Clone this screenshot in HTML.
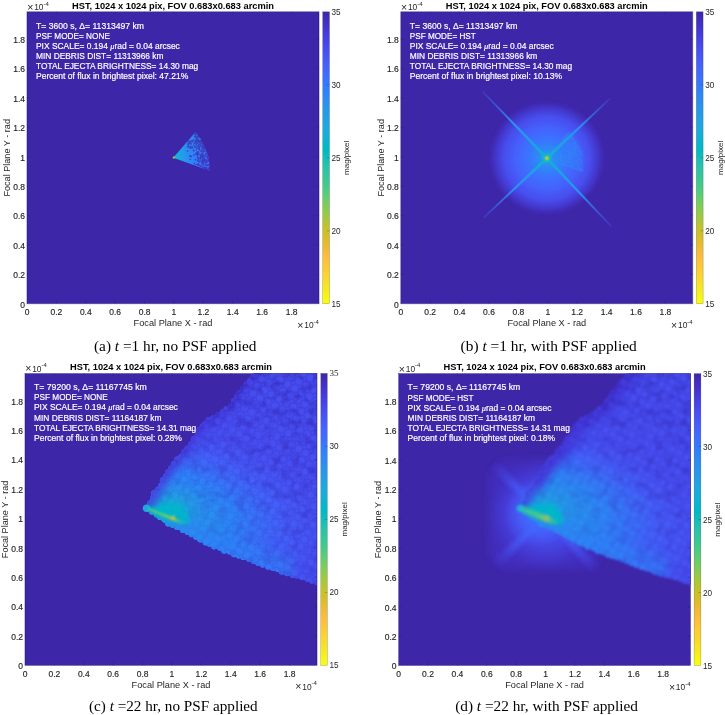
<!DOCTYPE html>
<html><head><meta charset="utf-8"><title>HST debris PSF figure</title>
<style>html,body{margin:0;padding:0;background:#fff;width:725px;height:715px;overflow:hidden}svg{display:block}</style>
</head><body>
<svg width="725" height="715" viewBox="0 0 725 715">
<defs><linearGradient id="cbg" x1="0" y1="0" x2="0" y2="1"><stop offset="0.0000" stop-color="#3e26a8"/><stop offset="0.0159" stop-color="#402ab4"/><stop offset="0.0317" stop-color="#422ec0"/><stop offset="0.0476" stop-color="#4332cb"/><stop offset="0.0635" stop-color="#4537d5"/><stop offset="0.0794" stop-color="#463cde"/><stop offset="0.0952" stop-color="#4741e5"/><stop offset="0.1111" stop-color="#4747eb"/><stop offset="0.1270" stop-color="#484df0"/><stop offset="0.1429" stop-color="#4852f4"/><stop offset="0.1587" stop-color="#4758f8"/><stop offset="0.1746" stop-color="#465efb"/><stop offset="0.1905" stop-color="#4563fd"/><stop offset="0.2063" stop-color="#4269fe"/><stop offset="0.2222" stop-color="#3e6fff"/><stop offset="0.2381" stop-color="#3875fe"/><stop offset="0.2540" stop-color="#327cfc"/><stop offset="0.2698" stop-color="#2f81fa"/><stop offset="0.2857" stop-color="#2e87f7"/><stop offset="0.3016" stop-color="#2d8cf3"/><stop offset="0.3175" stop-color="#2b91ef"/><stop offset="0.3333" stop-color="#2797eb"/><stop offset="0.3492" stop-color="#259be8"/><stop offset="0.3651" stop-color="#23a0e5"/><stop offset="0.3810" stop-color="#20a5e3"/><stop offset="0.3968" stop-color="#1ca9df"/><stop offset="0.4127" stop-color="#18addb"/><stop offset="0.4286" stop-color="#12b1d6"/><stop offset="0.4444" stop-color="#08b5d0"/><stop offset="0.4603" stop-color="#01b8ca"/><stop offset="0.4762" stop-color="#02bac3"/><stop offset="0.4921" stop-color="#0bbdbd"/><stop offset="0.5079" stop-color="#19bfb6"/><stop offset="0.5238" stop-color="#24c1ae"/><stop offset="0.5397" stop-color="#2cc4a7"/><stop offset="0.5556" stop-color="#31c69f"/><stop offset="0.5714" stop-color="#37c897"/><stop offset="0.5873" stop-color="#3fca8e"/><stop offset="0.6032" stop-color="#4acb84"/><stop offset="0.6190" stop-color="#57cc7a"/><stop offset="0.6349" stop-color="#64cd6f"/><stop offset="0.6508" stop-color="#72cd64"/><stop offset="0.6667" stop-color="#81cc59"/><stop offset="0.6825" stop-color="#8fcb4e"/><stop offset="0.6984" stop-color="#9dc943"/><stop offset="0.7143" stop-color="#abc739"/><stop offset="0.7302" stop-color="#b9c431"/><stop offset="0.7460" stop-color="#c5c22a"/><stop offset="0.7619" stop-color="#d1bf27"/><stop offset="0.7778" stop-color="#dcbd29"/><stop offset="0.7937" stop-color="#e6bb2d"/><stop offset="0.8095" stop-color="#f0ba36"/><stop offset="0.8254" stop-color="#f8ba3d"/><stop offset="0.8413" stop-color="#febe3c"/><stop offset="0.8571" stop-color="#fec338"/><stop offset="0.8730" stop-color="#fec934"/><stop offset="0.8889" stop-color="#fccf30"/><stop offset="0.9048" stop-color="#fad62c"/><stop offset="0.9206" stop-color="#f8dd28"/><stop offset="0.9365" stop-color="#f7e423"/><stop offset="0.9524" stop-color="#f6eb1e"/><stop offset="0.9683" stop-color="#f7f218"/><stop offset="0.9841" stop-color="#f8f911"/><stop offset="1.0000" stop-color="#f9fb15"/></linearGradient><g id="fanS"><polygon points="259.1,366.7 254.2,373.8 250.0,378.1 239.5,390.6 228.9,406.0 221.0,411.2 211.0,417.1 202.9,422.7 196.3,433.5 187.9,445.3 181.9,453.8 175.3,459.3 171.3,464.9 167.1,471.6 161.3,480.0 157.9,485.9 154.1,490.8 151.3,497.5 146.7,507.1 146.2,510.0 154.8,515.3 165.5,523.4 179.5,530.0 206.8,544.8 230.5,554.5 242.8,558.2 255.3,563.2 267.7,568.1 280.0,572.5 292.4,576.2 304.8,579.9 316.6,583.6 330.4,587.8 330.0,360.0"/><circle cx="148.3" cy="508.3" r="3.0"/><circle cx="150.5" cy="503.2" r="3.0"/><circle cx="152.8" cy="498.5" r="2.8"/><circle cx="154.3" cy="493.5" r="3.2"/><circle cx="157.6" cy="489.8" r="2.8"/><circle cx="160.8" cy="485.8" r="2.7"/><circle cx="163.0" cy="480.4" r="3.1"/><circle cx="165.8" cy="476.1" r="2.7"/><circle cx="168.4" cy="471.7" r="2.8"/><circle cx="171.4" cy="468.2" r="3.0"/><circle cx="174.5" cy="463.7" r="3.0"/><circle cx="177.2" cy="459.6" r="3.1"/><circle cx="181.7" cy="457.0" r="3.3"/><circle cx="184.6" cy="452.2" r="3.1"/><circle cx="187.4" cy="448.4" r="2.9"/><circle cx="191.4" cy="443.7" r="2.9"/><circle cx="194.4" cy="439.1" r="3.3"/><circle cx="197.5" cy="435.3" r="2.8"/><circle cx="199.8" cy="430.4" r="3.3"/><circle cx="202.8" cy="426.3" r="3.1"/><circle cx="205.1" cy="423.6" r="2.8"/><circle cx="208.7" cy="420.1" r="3.2"/><circle cx="212.9" cy="418.0" r="2.8"/><circle cx="217.9" cy="415.0" r="2.8"/><circle cx="222.7" cy="411.9" r="2.8"/><circle cx="226.5" cy="409.2" r="3.1"/><circle cx="231.0" cy="406.1" r="2.8"/><circle cx="234.2" cy="401.4" r="3.2"/><circle cx="237.2" cy="397.1" r="2.8"/><circle cx="239.8" cy="393.1" r="3.1"/><circle cx="243.2" cy="388.9" r="2.8"/><circle cx="246.5" cy="384.1" r="2.9"/><circle cx="250.1" cy="380.3" r="2.8"/><circle cx="253.4" cy="376.8" r="3.1"/><circle cx="257.0" cy="372.8" r="3.3"/><circle cx="259.7" cy="367.9" r="3.2"/><circle cx="147.5" cy="508.2" r="3.2"/><circle cx="151.8" cy="511.8" r="2.8"/><circle cx="156.6" cy="514.6" r="2.8"/><circle cx="160.2" cy="516.9" r="3.1"/><circle cx="164.9" cy="520.1" r="2.7"/><circle cx="168.2" cy="523.3" r="3.1"/><circle cx="172.8" cy="524.7" r="3.1"/><circle cx="177.2" cy="527.0" r="3.1"/><circle cx="182.9" cy="529.9" r="3.0"/><circle cx="187.6" cy="531.9" r="2.9"/><circle cx="191.4" cy="534.6" r="2.7"/><circle cx="195.8" cy="537.0" r="2.7"/><circle cx="200.3" cy="539.5" r="3.0"/><circle cx="205.9" cy="542.3" r="3.2"/><circle cx="209.9" cy="543.8" r="3.1"/><circle cx="214.0" cy="546.7" r="2.7"/><circle cx="219.9" cy="547.6" r="3.1"/><circle cx="224.2" cy="550.4" r="3.1"/><circle cx="229.5" cy="551.5" r="2.9"/><circle cx="234.0" cy="554.2" r="3.0"/><circle cx="238.9" cy="555.5" r="3.1"/><circle cx="243.6" cy="556.9" r="3.2"/><circle cx="249.1" cy="558.6" r="3.2"/><circle cx="253.9" cy="560.7" r="3.2"/><circle cx="258.2" cy="562.7" r="3.1"/><circle cx="262.7" cy="564.6" r="3.1"/><circle cx="268.4" cy="566.6" r="3.3"/><circle cx="273.1" cy="568.2" r="2.9"/><circle cx="278.1" cy="569.3" r="3.0"/><circle cx="282.0" cy="571.6" r="3.2"/><circle cx="287.1" cy="573.2" r="3.0"/><circle cx="292.6" cy="574.9" r="3.0"/><circle cx="296.8" cy="575.7" r="2.9"/><circle cx="302.1" cy="577.0" r="3.1"/><circle cx="307.6" cy="578.8" r="3.2"/><circle cx="312.2" cy="580.7" r="3.2"/><circle cx="317.3" cy="582.4" r="2.8"/><circle cx="322.8" cy="583.4" r="3.2"/><circle cx="327.1" cy="584.6" r="3.0"/></g><clipPath id="fanclip"><polygon points="259.1,366.7 254.2,373.8 250.0,378.1 239.5,390.6 228.9,406.0 221.0,411.2 211.0,417.1 202.9,422.7 196.3,433.5 187.9,445.3 181.9,453.8 175.3,459.3 171.3,464.9 167.1,471.6 161.3,480.0 157.9,485.9 154.1,490.8 151.3,497.5 146.7,507.1 146.2,510.0 154.8,515.3 165.5,523.4 179.5,530.0 206.8,544.8 230.5,554.5 242.8,558.2 255.3,563.2 267.7,568.1 280.0,572.5 292.4,576.2 304.8,579.9 316.6,583.6 330.4,587.8 330.0,360.0"/><circle cx="148.3" cy="508.3" r="3.0"/><circle cx="150.5" cy="503.2" r="3.0"/><circle cx="152.8" cy="498.5" r="2.8"/><circle cx="154.3" cy="493.5" r="3.2"/><circle cx="157.6" cy="489.8" r="2.8"/><circle cx="160.8" cy="485.8" r="2.7"/><circle cx="163.0" cy="480.4" r="3.1"/><circle cx="165.8" cy="476.1" r="2.7"/><circle cx="168.4" cy="471.7" r="2.8"/><circle cx="171.4" cy="468.2" r="3.0"/><circle cx="174.5" cy="463.7" r="3.0"/><circle cx="177.2" cy="459.6" r="3.1"/><circle cx="181.7" cy="457.0" r="3.3"/><circle cx="184.6" cy="452.2" r="3.1"/><circle cx="187.4" cy="448.4" r="2.9"/><circle cx="191.4" cy="443.7" r="2.9"/><circle cx="194.4" cy="439.1" r="3.3"/><circle cx="197.5" cy="435.3" r="2.8"/><circle cx="199.8" cy="430.4" r="3.3"/><circle cx="202.8" cy="426.3" r="3.1"/><circle cx="205.1" cy="423.6" r="2.8"/><circle cx="208.7" cy="420.1" r="3.2"/><circle cx="212.9" cy="418.0" r="2.8"/><circle cx="217.9" cy="415.0" r="2.8"/><circle cx="222.7" cy="411.9" r="2.8"/><circle cx="226.5" cy="409.2" r="3.1"/><circle cx="231.0" cy="406.1" r="2.8"/><circle cx="234.2" cy="401.4" r="3.2"/><circle cx="237.2" cy="397.1" r="2.8"/><circle cx="239.8" cy="393.1" r="3.1"/><circle cx="243.2" cy="388.9" r="2.8"/><circle cx="246.5" cy="384.1" r="2.9"/><circle cx="250.1" cy="380.3" r="2.8"/><circle cx="253.4" cy="376.8" r="3.1"/><circle cx="257.0" cy="372.8" r="3.3"/><circle cx="259.7" cy="367.9" r="3.2"/><circle cx="147.5" cy="508.2" r="3.2"/><circle cx="151.8" cy="511.8" r="2.8"/><circle cx="156.6" cy="514.6" r="2.8"/><circle cx="160.2" cy="516.9" r="3.1"/><circle cx="164.9" cy="520.1" r="2.7"/><circle cx="168.2" cy="523.3" r="3.1"/><circle cx="172.8" cy="524.7" r="3.1"/><circle cx="177.2" cy="527.0" r="3.1"/><circle cx="182.9" cy="529.9" r="3.0"/><circle cx="187.6" cy="531.9" r="2.9"/><circle cx="191.4" cy="534.6" r="2.7"/><circle cx="195.8" cy="537.0" r="2.7"/><circle cx="200.3" cy="539.5" r="3.0"/><circle cx="205.9" cy="542.3" r="3.2"/><circle cx="209.9" cy="543.8" r="3.1"/><circle cx="214.0" cy="546.7" r="2.7"/><circle cx="219.9" cy="547.6" r="3.1"/><circle cx="224.2" cy="550.4" r="3.1"/><circle cx="229.5" cy="551.5" r="2.9"/><circle cx="234.0" cy="554.2" r="3.0"/><circle cx="238.9" cy="555.5" r="3.1"/><circle cx="243.6" cy="556.9" r="3.2"/><circle cx="249.1" cy="558.6" r="3.2"/><circle cx="253.9" cy="560.7" r="3.2"/><circle cx="258.2" cy="562.7" r="3.1"/><circle cx="262.7" cy="564.6" r="3.1"/><circle cx="268.4" cy="566.6" r="3.3"/><circle cx="273.1" cy="568.2" r="2.9"/><circle cx="278.1" cy="569.3" r="3.0"/><circle cx="282.0" cy="571.6" r="3.2"/><circle cx="287.1" cy="573.2" r="3.0"/><circle cx="292.6" cy="574.9" r="3.0"/><circle cx="296.8" cy="575.7" r="2.9"/><circle cx="302.1" cy="577.0" r="3.1"/><circle cx="307.6" cy="578.8" r="3.2"/><circle cx="312.2" cy="580.7" r="3.2"/><circle cx="317.3" cy="582.4" r="2.8"/><circle cx="322.8" cy="583.4" r="3.2"/><circle cx="327.1" cy="584.6" r="3.0"/></clipPath><radialGradient id="blobg"><stop offset="0" stop-color="#2e1cae" stop-opacity="0"/><stop offset="0.55" stop-color="#2e1cae" stop-opacity="0.03"/><stop offset="1" stop-color="#2e1cae" stop-opacity="0.36"/></radialGradient><pattern id="blobp" patternUnits="userSpaceOnUse" width="8.4" height="8.4" patternTransform="rotate(30)"><circle cx="4.2" cy="4.2" r="4.8" fill="url(#blobg)"/></pattern><linearGradient id="tri" gradientUnits="userSpaceOnUse" x1="173" y1="158" x2="211" y2="152"><stop offset="0" stop-color="#71cd64"/><stop offset="0.04" stop-color="#24c2ae"/><stop offset="0.12" stop-color="#13b0d7"/><stop offset="0.3" stop-color="#2797eb"/><stop offset="0.5" stop-color="#2e83f9"/><stop offset="0.75" stop-color="#3974fe"/><stop offset="1" stop-color="#416bfe"/></linearGradient><linearGradient id="tri2" gradientUnits="userSpaceOnUse" x1="185" y1="150" x2="190" y2="140"><stop offset="0" stop-color="#259ce7" stop-opacity="0"/><stop offset="1" stop-color="#259ce7" stop-opacity="0.35"/></linearGradient><radialGradient id="halo"><stop offset="0" stop-color="#1caadf"/><stop offset="0.06" stop-color="#259ce7"/><stop offset="0.18" stop-color="#2e87f7"/><stop offset="0.35" stop-color="#3b72ff"/><stop offset="0.55" stop-color="#4561fc"/><stop offset="0.75" stop-color="#4851f4" stop-opacity="0.9"/><stop offset="0.9" stop-color="#4743e7" stop-opacity="0.5"/><stop offset="1" stop-color="#4433cc" stop-opacity="0"/></radialGradient><radialGradient id="core"><stop offset="0" stop-color="#f8ba3d"/><stop offset="0.2" stop-color="#9fc942"/><stop offset="0.45" stop-color="#1ac0b5"/><stop offset="0.75" stop-color="#19addc" stop-opacity="0.7"/><stop offset="1" stop-color="#259ce7" stop-opacity="0"/></radialGradient><radialGradient id="glow2"><stop offset="0" stop-color="#347afd"/><stop offset="0.5" stop-color="#416bfe" stop-opacity="0.6"/><stop offset="1" stop-color="#465efb" stop-opacity="0"/></radialGradient><radialGradient id="glow"><stop offset="0" stop-color="#4465fd"/><stop offset="0.35" stop-color="#4755f6"/><stop offset="0.7" stop-color="#4743e7" stop-opacity="0.8"/><stop offset="1" stop-color="#4537d6" stop-opacity="0.45"/></radialGradient><radialGradient id="fang" gradientUnits="userSpaceOnUse" cx="150" cy="513" r="195" gradientTransform="rotate(10 150 513) translate(150 513) scale(1 0.52) translate(-150 -513)"><stop offset="0" stop-color="#15afd9"/><stop offset="0.1" stop-color="#1fa6e2"/><stop offset="0.25" stop-color="#2797eb"/><stop offset="0.45" stop-color="#2e83f9"/><stop offset="0.7" stop-color="#4367fd" stop-opacity="0.7"/><stop offset="1" stop-color="#4850f2" stop-opacity="0"/></radialGradient><radialGradient id="fang3" gradientUnits="userSpaceOnUse" cx="165" cy="510" r="110" gradientTransform="rotate(-5 165 510) translate(165 510) scale(1 0.6) translate(-165 -510)"><stop offset="0" stop-color="#21a3e3" stop-opacity="0.8"/><stop offset="0.5" stop-color="#2d8cf3" stop-opacity="0.5"/><stop offset="1" stop-color="#3d70ff" stop-opacity="0"/></radialGradient><radialGradient id="fang2" gradientUnits="userSpaceOnUse" cx="166" cy="512" r="40" gradientTransform="rotate(-15 166 512) translate(166 512) scale(1 0.6) translate(-166 -512)"><stop offset="0" stop-color="#01b8ca"/><stop offset="0.5" stop-color="#19addc" stop-opacity="0.6"/><stop offset="1" stop-color="#259ce7" stop-opacity="0"/></radialGradient><linearGradient id="strk" gradientUnits="userSpaceOnUse" x1="149" y1="509" x2="185" y2="523.6"><stop offset="0" stop-color="#37c898"/><stop offset="0.4" stop-color="#58cc79"/><stop offset="0.67" stop-color="#96ca48"/><stop offset="1" stop-color="#12beb9" stop-opacity="0.3"/></linearGradient><linearGradient id="strk2" gradientUnits="userSpaceOnUse" x1="148" y1="508" x2="186" y2="522"><stop offset="0" stop-color="#5ccc76"/><stop offset="0.7" stop-color="#c8c129"/><stop offset="1" stop-color="#39c895"/></linearGradient><filter id="b05" x="-50%" y="-50%" width="200%" height="200%"><feGaussianBlur stdDeviation="0.5"/></filter><filter id="b07" x="-50%" y="-50%" width="200%" height="200%"><feGaussianBlur stdDeviation="0.7"/></filter><filter id="b08" x="-50%" y="-50%" width="200%" height="200%"><feGaussianBlur stdDeviation="0.8"/></filter><filter id="b1" x="-50%" y="-50%" width="200%" height="200%"><feGaussianBlur stdDeviation="1"/></filter><filter id="b12" x="-50%" y="-50%" width="200%" height="200%"><feGaussianBlur stdDeviation="1.2"/></filter><filter id="b15" x="-50%" y="-50%" width="200%" height="200%"><feGaussianBlur stdDeviation="1.5"/></filter><filter id="b2" x="-50%" y="-50%" width="200%" height="200%"><feGaussianBlur stdDeviation="2"/></filter><filter id="b3" x="-50%" y="-50%" width="200%" height="200%"><feGaussianBlur stdDeviation="3"/></filter><filter id="b4" x="-50%" y="-50%" width="200%" height="200%"><feGaussianBlur stdDeviation="4"/></filter><filter id="b6" x="-50%" y="-50%" width="200%" height="200%"><feGaussianBlur stdDeviation="6"/></filter><filter id="tex" x="0" y="300" width="400" height="400" filterUnits="userSpaceOnUse" color-interpolation-filters="sRGB"><feTurbulence type="fractalNoise" baseFrequency="0.11" numOctaves="2" seed="7" result="n"/><feColorMatrix in="n" type="matrix" values="0 0 0 0 0.18  0 0 0 0 0.11  0 0 0 0 0.66  3.4 0 0 0 -1.55" result="m"/><feComposite in="m" in2="SourceGraphic" operator="in"/></filter><linearGradient id="texg" gradientUnits="userSpaceOnUse" x1="160" y1="530" x2="300" y2="400"><stop offset="0" stop-color="#fff" stop-opacity="0.12"/><stop offset="0.45" stop-color="#fff" stop-opacity="0.5"/><stop offset="1" stop-color="#fff" stop-opacity="1"/></linearGradient><mask id="texm" maskUnits="userSpaceOnUse" x="0" y="300" width="400" height="400"><rect x="0" y="300" width="400" height="400" fill="url(#texg)"/></mask></defs>
<rect width="725" height="715" fill="#fff"/>
<g>
<clipPath id="clipa"><rect x="27.00" y="11.80" width="292.00" height="292.00"/></clipPath>
<g clip-path="url(#clipa)">
<rect x="27.00" y="11.80" width="292.00" height="292.00" fill="#3e26a8"/>
<polygon points="173.2,157.8 195.6,131.9 200.0,137.8 204.5,147.0 209.0,158.2 209.6,170.8" fill="url(#tri)"/><polygon points="173.2,157.8 195.6,131.9 200.0,137.8 204.5,147.0 209.0,158.2 209.6,170.8" fill="url(#tri2)"/><g fill="#3e26a8" opacity="0.7"><rect x="202.2" y="167.1" width="1.4" height="1.4"/><rect x="197.5" y="139.7" width="1.4" height="1.4"/><rect x="193.1" y="144.5" width="1.4" height="1.4"/><rect x="193.1" y="154.6" width="1.4" height="1.4"/><rect x="194.8" y="153.6" width="1.4" height="1.4"/><rect x="193.4" y="142.6" width="1.4" height="1.4"/><rect x="195.9" y="139.3" width="1.4" height="1.4"/><rect x="198.1" y="164.5" width="1.4" height="1.4"/><rect x="201.7" y="162.4" width="1.4" height="1.4"/><rect x="197.8" y="141.5" width="1.4" height="1.4"/><rect x="198.3" y="143.5" width="1.4" height="1.4"/><rect x="203.4" y="157.2" width="1.4" height="1.4"/><rect x="194.7" y="158.9" width="1.4" height="1.4"/><rect x="202.2" y="153.7" width="1.4" height="1.4"/><rect x="199.5" y="139.8" width="1.4" height="1.4"/><rect x="207.1" y="168.7" width="1.4" height="1.4"/><rect x="203.3" y="159.5" width="1.4" height="1.4"/><rect x="202.6" y="147.0" width="1.4" height="1.4"/><rect x="205.4" y="156.0" width="1.4" height="1.4"/><rect x="196.8" y="156.6" width="1.4" height="1.4"/><rect x="203.1" y="155.8" width="1.4" height="1.4"/><rect x="197.6" y="138.8" width="1.4" height="1.4"/><rect x="188.8" y="142.6" width="1.4" height="1.4"/><rect x="197.4" y="145.3" width="1.4" height="1.4"/><rect x="195.8" y="141.0" width="1.4" height="1.4"/><rect x="199.5" y="143.6" width="1.4" height="1.4"/><rect x="194.9" y="135.3" width="1.4" height="1.4"/><rect x="200.0" y="155.1" width="1.4" height="1.4"/><rect x="201.7" y="166.7" width="1.4" height="1.4"/><rect x="196.5" y="138.8" width="1.4" height="1.4"/><rect x="198.2" y="146.8" width="1.4" height="1.4"/><rect x="192.7" y="149.3" width="1.4" height="1.4"/><rect x="201.5" y="147.9" width="1.4" height="1.4"/><rect x="205.6" y="164.0" width="1.4" height="1.4"/><rect x="199.2" y="143.4" width="1.4" height="1.4"/><rect x="199.1" y="148.8" width="1.4" height="1.4"/><rect x="204.7" y="154.1" width="1.4" height="1.4"/><rect x="203.4" y="147.5" width="1.4" height="1.4"/><rect x="205.6" y="167.5" width="1.4" height="1.4"/><rect x="197.7" y="152.4" width="1.4" height="1.4"/><rect x="193.9" y="135.7" width="1.4" height="1.4"/><rect x="189.5" y="155.4" width="1.4" height="1.4"/><rect x="188.1" y="145.2" width="1.4" height="1.4"/><rect x="196.5" y="142.5" width="1.4" height="1.4"/><rect x="195.0" y="131.6" width="1.4" height="1.4"/><rect x="199.6" y="140.0" width="1.4" height="1.4"/><rect x="193.7" y="162.8" width="1.4" height="1.4"/><rect x="202.6" y="163.8" width="1.4" height="1.4"/><rect x="201.5" y="144.2" width="1.4" height="1.4"/><rect x="202.1" y="163.1" width="1.4" height="1.4"/><rect x="195.6" y="133.4" width="1.4" height="1.4"/><rect x="201.4" y="147.3" width="1.4" height="1.4"/><rect x="191.9" y="141.0" width="1.4" height="1.4"/><rect x="192.8" y="139.2" width="1.4" height="1.4"/><rect x="203.2" y="157.6" width="1.4" height="1.4"/><rect x="202.8" y="159.9" width="1.4" height="1.4"/><rect x="194.8" y="142.4" width="1.4" height="1.4"/><rect x="198.8" y="144.0" width="1.4" height="1.4"/><rect x="186.6" y="146.0" width="1.4" height="1.4"/><rect x="191.9" y="146.4" width="1.4" height="1.4"/><rect x="198.5" y="146.2" width="1.4" height="1.4"/><rect x="187.5" y="142.5" width="1.4" height="1.4"/><rect x="200.9" y="165.3" width="1.4" height="1.4"/><rect x="200.2" y="145.1" width="1.4" height="1.4"/><rect x="204.2" y="167.6" width="1.4" height="1.4"/><rect x="197.0" y="164.0" width="1.4" height="1.4"/><rect x="188.3" y="142.4" width="1.4" height="1.4"/><rect x="205.4" y="163.7" width="1.4" height="1.4"/><rect x="196.4" y="153.5" width="1.4" height="1.4"/><rect x="190.5" y="141.3" width="1.4" height="1.4"/><rect x="202.3" y="161.2" width="1.4" height="1.4"/><rect x="205.2" y="152.7" width="1.4" height="1.4"/><rect x="197.3" y="147.5" width="1.4" height="1.4"/><rect x="205.3" y="168.6" width="1.4" height="1.4"/><rect x="195.5" y="138.4" width="1.4" height="1.4"/><rect x="207.1" y="165.0" width="1.4" height="1.4"/><rect x="204.0" y="167.1" width="1.4" height="1.4"/><rect x="203.1" y="165.6" width="1.4" height="1.4"/><rect x="190.1" y="145.6" width="1.4" height="1.4"/><rect x="197.7" y="158.8" width="1.4" height="1.4"/><rect x="198.9" y="141.2" width="1.4" height="1.4"/><rect x="205.0" y="159.3" width="1.4" height="1.4"/><rect x="207.1" y="160.3" width="1.4" height="1.4"/><rect x="199.4" y="145.8" width="1.4" height="1.4"/><rect x="195.4" y="136.8" width="1.4" height="1.4"/><rect x="208.7" y="167.5" width="1.4" height="1.4"/><rect x="195.4" y="133.9" width="1.4" height="1.4"/><rect x="199.7" y="159.3" width="1.4" height="1.4"/><rect x="201.8" y="161.5" width="1.4" height="1.4"/><rect x="208.1" y="159.9" width="1.4" height="1.4"/><rect x="199.9" y="154.6" width="1.4" height="1.4"/><rect x="203.2" y="159.9" width="1.4" height="1.4"/><rect x="205.0" y="160.2" width="1.4" height="1.4"/><rect x="203.0" y="160.5" width="1.4" height="1.4"/><rect x="195.8" y="152.1" width="1.4" height="1.4"/><rect x="205.1" y="159.6" width="1.4" height="1.4"/><rect x="204.5" y="167.9" width="1.4" height="1.4"/><rect x="205.8" y="153.5" width="1.4" height="1.4"/><rect x="196.2" y="139.3" width="1.4" height="1.4"/><rect x="187.2" y="140.7" width="1.4" height="1.4"/><rect x="197.2" y="145.4" width="1.4" height="1.4"/><rect x="203.2" y="150.6" width="1.4" height="1.4"/><rect x="202.1" y="156.0" width="1.4" height="1.4"/><rect x="208.0" y="164.0" width="1.4" height="1.4"/><rect x="205.0" y="166.8" width="1.4" height="1.4"/><rect x="190.9" y="147.0" width="1.4" height="1.4"/><rect x="197.5" y="141.3" width="1.4" height="1.4"/><rect x="190.1" y="147.3" width="1.4" height="1.4"/><rect x="200.1" y="140.3" width="1.4" height="1.4"/><rect x="197.8" y="158.9" width="1.4" height="1.4"/><rect x="186.8" y="150.3" width="1.4" height="1.4"/><rect x="195.3" y="143.8" width="1.4" height="1.4"/><rect x="187.6" y="143.7" width="1.4" height="1.4"/><rect x="201.6" y="145.6" width="1.4" height="1.4"/><rect x="204.0" y="155.0" width="1.4" height="1.4"/><rect x="197.4" y="135.8" width="1.4" height="1.4"/><rect x="194.5" y="132.6" width="1.4" height="1.4"/><rect x="201.5" y="156.6" width="1.4" height="1.4"/><rect x="199.7" y="157.1" width="1.4" height="1.4"/><rect x="205.7" y="164.4" width="1.4" height="1.4"/><rect x="188.1" y="140.2" width="1.4" height="1.4"/><rect x="201.8" y="159.7" width="1.4" height="1.4"/><rect x="195.9" y="143.1" width="1.4" height="1.4"/><rect x="205.9" y="166.9" width="1.4" height="1.4"/><rect x="196.7" y="140.7" width="1.4" height="1.4"/><rect x="200.2" y="150.3" width="1.4" height="1.4"/><rect x="203.4" y="159.9" width="1.4" height="1.4"/><rect x="189.5" y="158.6" width="1.4" height="1.4"/><rect x="200.4" y="139.9" width="1.4" height="1.4"/><rect x="200.7" y="156.1" width="1.4" height="1.4"/><rect x="208.0" y="167.9" width="1.4" height="1.4"/><rect x="202.3" y="161.1" width="1.4" height="1.4"/><rect x="204.3" y="150.5" width="1.4" height="1.4"/><rect x="201.3" y="162.7" width="1.4" height="1.4"/><rect x="205.9" y="161.7" width="1.4" height="1.4"/><rect x="202.2" y="145.5" width="1.4" height="1.4"/><rect x="191.3" y="140.8" width="1.4" height="1.4"/><rect x="198.4" y="147.6" width="1.4" height="1.4"/><rect x="200.8" y="161.1" width="1.4" height="1.4"/><rect x="197.7" y="151.2" width="1.4" height="1.4"/><rect x="206.0" y="161.5" width="1.4" height="1.4"/><rect x="207.0" y="155.1" width="1.4" height="1.4"/><rect x="187.0" y="143.6" width="1.4" height="1.4"/><rect x="194.9" y="133.0" width="1.4" height="1.4"/><rect x="207.7" y="158.0" width="1.4" height="1.4"/><rect x="207.9" y="167.8" width="1.4" height="1.4"/><rect x="208.3" y="159.3" width="1.4" height="1.4"/><rect x="190.3" y="143.1" width="1.4" height="1.4"/><rect x="203.0" y="161.6" width="1.4" height="1.4"/><rect x="199.2" y="164.6" width="1.4" height="1.4"/><rect x="189.0" y="141.4" width="1.4" height="1.4"/><rect x="189.2" y="147.2" width="1.4" height="1.4"/><rect x="197.7" y="163.0" width="1.4" height="1.4"/><rect x="202.6" y="154.3" width="1.4" height="1.4"/><rect x="198.6" y="149.0" width="1.4" height="1.4"/><rect x="187.6" y="143.7" width="1.4" height="1.4"/><rect x="203.0" y="148.7" width="1.4" height="1.4"/><rect x="198.4" y="143.9" width="1.4" height="1.4"/><rect x="195.8" y="147.2" width="1.4" height="1.4"/><rect x="196.9" y="160.1" width="1.4" height="1.4"/><rect x="197.2" y="136.1" width="1.4" height="1.4"/><rect x="207.2" y="155.3" width="1.4" height="1.4"/><rect x="205.7" y="168.9" width="1.4" height="1.4"/><rect x="197.2" y="141.0" width="1.4" height="1.4"/><rect x="195.8" y="140.0" width="1.4" height="1.4"/><rect x="196.7" y="155.1" width="1.4" height="1.4"/><rect x="206.6" y="157.0" width="1.4" height="1.4"/><rect x="198.3" y="153.7" width="1.4" height="1.4"/><rect x="204.5" y="168.0" width="1.4" height="1.4"/><rect x="189.7" y="140.6" width="1.4" height="1.4"/><rect x="207.4" y="159.9" width="1.4" height="1.4"/><rect x="195.3" y="153.4" width="1.4" height="1.4"/><rect x="197.2" y="134.3" width="1.4" height="1.4"/><rect x="200.7" y="142.8" width="1.4" height="1.4"/><rect x="200.5" y="141.1" width="1.4" height="1.4"/><rect x="201.7" y="158.3" width="1.4" height="1.4"/><rect x="196.9" y="152.8" width="1.4" height="1.4"/><rect x="196.8" y="140.1" width="1.4" height="1.4"/><rect x="197.9" y="135.6" width="1.4" height="1.4"/><rect x="204.0" y="149.3" width="1.4" height="1.4"/><rect x="198.4" y="157.1" width="1.4" height="1.4"/><rect x="201.3" y="155.1" width="1.4" height="1.4"/><rect x="203.7" y="158.9" width="1.4" height="1.4"/><rect x="201.3" y="155.4" width="1.4" height="1.4"/><rect x="206.2" y="164.1" width="1.4" height="1.4"/><rect x="193.8" y="140.2" width="1.4" height="1.4"/><rect x="198.9" y="140.6" width="1.4" height="1.4"/><rect x="204.5" y="163.4" width="1.4" height="1.4"/><rect x="196.4" y="151.2" width="1.4" height="1.4"/><rect x="191.7" y="147.1" width="1.4" height="1.4"/><rect x="201.5" y="151.3" width="1.4" height="1.4"/><rect x="202.8" y="151.2" width="1.4" height="1.4"/><rect x="188.4" y="146.3" width="1.4" height="1.4"/><rect x="200.3" y="141.5" width="1.4" height="1.4"/><rect x="198.9" y="136.9" width="1.4" height="1.4"/><rect x="208.6" y="167.1" width="1.4" height="1.4"/><rect x="207.1" y="168.6" width="1.4" height="1.4"/><rect x="195.0" y="140.5" width="1.4" height="1.4"/><rect x="204.8" y="168.5" width="1.4" height="1.4"/><rect x="196.4" y="137.5" width="1.4" height="1.4"/><rect x="194.4" y="146.6" width="1.4" height="1.4"/><rect x="197.2" y="138.6" width="1.4" height="1.4"/><rect x="194.6" y="141.8" width="1.4" height="1.4"/><rect x="201.1" y="150.4" width="1.4" height="1.4"/><rect x="196.1" y="135.9" width="1.4" height="1.4"/><rect x="200.4" y="156.3" width="1.4" height="1.4"/><rect x="201.4" y="160.3" width="1.4" height="1.4"/><rect x="202.4" y="149.1" width="1.4" height="1.4"/><rect x="198.2" y="147.0" width="1.4" height="1.4"/><rect x="199.0" y="160.7" width="1.4" height="1.4"/><rect x="200.6" y="153.5" width="1.4" height="1.4"/><rect x="204.7" y="161.4" width="1.4" height="1.4"/><rect x="202.7" y="158.6" width="1.4" height="1.4"/><rect x="200.4" y="142.0" width="1.4" height="1.4"/><rect x="201.0" y="150.3" width="1.4" height="1.4"/><rect x="201.6" y="146.4" width="1.4" height="1.4"/><rect x="203.0" y="145.5" width="1.4" height="1.4"/><rect x="194.1" y="145.7" width="1.4" height="1.4"/><rect x="198.3" y="161.0" width="1.4" height="1.4"/><rect x="208.3" y="157.9" width="1.4" height="1.4"/><rect x="204.3" y="167.3" width="1.4" height="1.4"/><rect x="190.6" y="155.8" width="1.4" height="1.4"/><rect x="199.9" y="157.7" width="1.4" height="1.4"/><rect x="200.3" y="156.1" width="1.4" height="1.4"/><rect x="207.6" y="158.7" width="1.4" height="1.4"/><rect x="197.5" y="140.7" width="1.4" height="1.4"/><rect x="197.6" y="158.0" width="1.4" height="1.4"/><rect x="194.2" y="133.8" width="1.4" height="1.4"/><rect x="196.5" y="136.3" width="1.4" height="1.4"/><rect x="194.0" y="136.3" width="1.4" height="1.4"/><rect x="198.9" y="141.5" width="1.4" height="1.4"/><rect x="198.9" y="140.0" width="1.4" height="1.4"/><rect x="197.4" y="152.0" width="1.4" height="1.4"/><rect x="208.3" y="159.0" width="1.4" height="1.4"/><rect x="199.6" y="154.4" width="1.4" height="1.4"/><rect x="199.8" y="140.1" width="1.4" height="1.4"/><rect x="189.6" y="155.3" width="1.4" height="1.4"/><rect x="207.0" y="156.6" width="1.4" height="1.4"/><rect x="204.2" y="160.0" width="1.4" height="1.4"/><rect x="196.3" y="145.3" width="1.4" height="1.4"/><rect x="206.1" y="155.8" width="1.4" height="1.4"/><rect x="191.4" y="139.8" width="1.4" height="1.4"/><rect x="201.1" y="141.0" width="1.4" height="1.4"/><rect x="198.5" y="136.0" width="1.4" height="1.4"/><rect x="202.0" y="143.1" width="1.4" height="1.4"/><rect x="201.7" y="152.5" width="1.4" height="1.4"/><rect x="198.1" y="148.3" width="1.4" height="1.4"/><rect x="205.6" y="159.3" width="1.4" height="1.4"/><rect x="203.1" y="147.3" width="1.4" height="1.4"/><rect x="204.2" y="147.4" width="1.4" height="1.4"/><rect x="195.6" y="148.8" width="1.4" height="1.4"/><rect x="202.7" y="163.7" width="1.4" height="1.4"/><rect x="208.4" y="168.8" width="1.4" height="1.4"/><rect x="201.6" y="145.3" width="1.4" height="1.4"/><rect x="199.6" y="165.4" width="1.4" height="1.4"/><rect x="203.1" y="155.1" width="1.4" height="1.4"/><rect x="202.8" y="145.1" width="1.4" height="1.4"/><rect x="195.4" y="163.9" width="1.4" height="1.4"/><rect x="189.8" y="143.1" width="1.4" height="1.4"/><rect x="193.2" y="150.2" width="1.4" height="1.4"/></g><circle cx="173.8" cy="157.6" r="1.15" fill="#b4c533" filter="url(#b05)"/>
</g>
<rect x="27.00" y="11.80" width="292.00" height="292.00" fill="none" stroke="#1c1470" stroke-width="0.6" opacity="0.8"/>
<path d="M56.40 303.80V300.90M56.40 11.80V14.70M27.00 274.40H29.90M319.00 274.40H316.10M85.80 303.80V300.90M85.80 11.80V14.70M27.00 245.00H29.90M319.00 245.00H316.10M115.19 303.80V300.90M115.19 11.80V14.70M27.00 215.61H29.90M319.00 215.61H316.10M144.59 303.80V300.90M144.59 11.80V14.70M27.00 186.21H29.90M319.00 186.21H316.10M173.99 303.80V300.90M173.99 11.80V14.70M27.00 156.81H29.90M319.00 156.81H316.10M203.39 303.80V300.90M203.39 11.80V14.70M27.00 127.41H29.90M319.00 127.41H316.10M232.78 303.80V300.90M232.78 11.80V14.70M27.00 98.02H29.90M319.00 98.02H316.10M262.18 303.80V300.90M262.18 11.80V14.70M27.00 68.62H29.90M319.00 68.62H316.10M291.58 303.80V300.90M291.58 11.80V14.70M27.00 39.22H29.90M319.00 39.22H316.10" stroke="#262626" stroke-width="0.5" opacity="0.55" fill="none"/>
<g font-family="'Liberation Sans', Arial, Helvetica, sans-serif" font-size="8.55" fill="#ffffff" stroke="#ffffff" stroke-width="0.18">
<text x="36.00" y="28.55" textLength="108.00" lengthAdjust="spacingAndGlyphs">T= 3600 s, &#916;= 11313497 km</text>
<text x="36.00" y="38.71" textLength="73.90" lengthAdjust="spacingAndGlyphs">PSF MODE= NONE</text>
<text x="36.00" y="48.87" textLength="143.80" lengthAdjust="spacingAndGlyphs">PIX SCALE= 0.194 <tspan font-family="'Liberation Serif', 'Times New Roman', serif" font-style="italic">&#956;</tspan>rad = 0.04 arcsec</text>
<text x="36.00" y="59.03" textLength="127.50" lengthAdjust="spacingAndGlyphs">MIN DEBRIS DIST= 11313966 km</text>
<text x="36.00" y="69.19" textLength="162.25" lengthAdjust="spacingAndGlyphs">TOTAL EJECTA BRIGHTNESS= 14.30 mag</text>
<text x="36.00" y="79.35" textLength="152.30" lengthAdjust="spacingAndGlyphs">Percent of flux in brightest pixel: 47.21%</text>
</g>
<text x="173.00" y="8.60" font-family="'Liberation Sans', Arial, Helvetica, sans-serif" font-weight="bold" font-size="9.25" text-anchor="middle" fill="#000" textLength="202" lengthAdjust="spacingAndGlyphs">HST, 1024 x 1024 pix, FOV 0.683x0.683 arcmin</text>
<g font-family="'Liberation Sans', Arial, Helvetica, sans-serif" font-size="8.5" fill="#262626" stroke="#262626" stroke-width="0.15">
<text x="27.00" y="315.10" text-anchor="middle">0</text>
<text x="25.00" y="307.50" text-anchor="end">0</text>
<text x="56.40" y="315.10" text-anchor="middle">0.2</text>
<text x="25.00" y="278.10" text-anchor="end">0.2</text>
<text x="85.80" y="315.10" text-anchor="middle">0.4</text>
<text x="25.00" y="248.70" text-anchor="end">0.4</text>
<text x="115.19" y="315.10" text-anchor="middle">0.6</text>
<text x="25.00" y="219.31" text-anchor="end">0.6</text>
<text x="144.59" y="315.10" text-anchor="middle">0.8</text>
<text x="25.00" y="189.91" text-anchor="end">0.8</text>
<text x="173.99" y="315.10" text-anchor="middle">1</text>
<text x="25.00" y="160.51" text-anchor="end">1</text>
<text x="203.39" y="315.10" text-anchor="middle">1.2</text>
<text x="25.00" y="131.11" text-anchor="end">1.2</text>
<text x="232.78" y="315.10" text-anchor="middle">1.4</text>
<text x="25.00" y="101.72" text-anchor="end">1.4</text>
<text x="262.18" y="315.10" text-anchor="middle">1.6</text>
<text x="25.00" y="72.32" text-anchor="end">1.6</text>
<text x="291.58" y="315.10" text-anchor="middle">1.8</text>
<text x="25.00" y="42.92" text-anchor="end">1.8</text>
</g>
<text x="27.20" y="9.90" font-family="'Liberation Sans', Arial, Helvetica, sans-serif" font-size="8.4" fill="#262626"><tspan font-size="10.5" dy="0.8">&#215;</tspan><tspan dx="0.8" dy="-0.8">10</tspan><tspan font-size="6" dy="-4.3">-4</tspan></text>
<text x="318.90" y="328.00" font-family="'Liberation Sans', Arial, Helvetica, sans-serif" font-size="8.4" fill="#262626" text-anchor="end"><tspan font-size="10.5" dy="0.8">&#215;</tspan><tspan dx="0.8" dy="-0.8">10</tspan><tspan font-size="6" dy="-4.3">-4</tspan></text>
<text x="173.00" y="326.20" font-family="'Liberation Sans', Arial, Helvetica, sans-serif" font-size="9.1" fill="#262626" text-anchor="middle" textLength="78.8" lengthAdjust="spacingAndGlyphs">Focal Plane X - rad</text>
<text transform="translate(9.80 157.80) rotate(-90)" font-family="'Liberation Sans', Arial, Helvetica, sans-serif" font-size="9.1" fill="#262626" text-anchor="middle">Focal Plane Y - rad</text>
<rect x="322.70" y="11.80" width="6.80" height="292.00" fill="url(#cbg)"/>
<rect x="322.70" y="11.80" width="6.80" height="292.00" fill="none" stroke="#262626" stroke-width="0.4" opacity="0.5"/>
<path d="M329.50 84.80H327.00M329.50 157.80H327.00M329.50 230.80H327.00" stroke="#262626" stroke-width="0.5" opacity="0.5"/>
<g font-family="'Liberation Sans', Arial, Helvetica, sans-serif" font-size="8.2" fill="#262626">
<text x="331.40" y="14.75">35</text>
<text x="331.40" y="87.75">30</text>
<text x="331.40" y="160.75">25</text>
<text x="331.40" y="233.75">20</text>
<text x="331.40" y="306.75">15</text>
</g>
<text transform="translate(348.80 157.80) rotate(-90)" font-family="'Liberation Sans', Arial, Helvetica, sans-serif" font-size="8" fill="#262626" text-anchor="middle">mag/pixel</text>
<text x="94.00" y="350.70" font-family="'Liberation Serif', 'Times New Roman', serif" font-size="13.6" fill="#000" textLength="162.5" lengthAdjust="spacingAndGlyphs">(a) <tspan font-style="italic">t</tspan> =1 hr, no PSF applied</text>
</g>
<g>
<clipPath id="clipb"><rect x="400.80" y="11.80" width="292.00" height="292.00"/></clipPath>
<g clip-path="url(#clipb)">
<rect x="400.80" y="11.80" width="292.00" height="292.00" fill="#3e26a8"/>
<g filter="url(#b15)"><ellipse cx="546.9" cy="158.2" rx="58" ry="57" fill="url(#halo)"/><polygon points="549,158 569,132.4 576,141 582.5,153.4 583,171" fill="#2e85f8" opacity="0.4"/></g><g fill="#2d8cf3" opacity="0.55" filter="url(#b05)"><rect x="568.3" y="145.0" width="1.3" height="1.3"/><rect x="555.5" y="150.5" width="1.3" height="1.3"/><rect x="570.9" y="155.2" width="1.3" height="1.3"/><rect x="575.0" y="148.3" width="1.3" height="1.3"/><rect x="571.9" y="161.9" width="1.3" height="1.3"/><rect x="566.1" y="160.7" width="1.3" height="1.3"/><rect x="574.2" y="159.8" width="1.3" height="1.3"/><rect x="566.0" y="150.0" width="1.3" height="1.3"/><rect x="557.7" y="152.0" width="1.3" height="1.3"/><rect x="567.1" y="146.1" width="1.3" height="1.3"/><rect x="571.6" y="136.6" width="1.3" height="1.3"/><rect x="556.9" y="152.7" width="1.3" height="1.3"/><rect x="562.0" y="155.0" width="1.3" height="1.3"/><rect x="574.2" y="154.1" width="1.3" height="1.3"/><rect x="571.7" y="148.3" width="1.3" height="1.3"/><rect x="567.5" y="138.3" width="1.3" height="1.3"/><rect x="567.8" y="143.0" width="1.3" height="1.3"/><rect x="557.8" y="155.8" width="1.3" height="1.3"/><rect x="578.0" y="150.2" width="1.3" height="1.3"/><rect x="576.0" y="147.2" width="1.3" height="1.3"/><rect x="566.6" y="145.0" width="1.3" height="1.3"/><rect x="561.2" y="145.7" width="1.3" height="1.3"/><rect x="571.1" y="135.1" width="1.3" height="1.3"/><rect x="557.8" y="152.7" width="1.3" height="1.3"/><rect x="568.0" y="158.9" width="1.3" height="1.3"/><rect x="576.7" y="145.4" width="1.3" height="1.3"/><rect x="575.4" y="161.8" width="1.3" height="1.3"/><rect x="580.0" y="150.1" width="1.3" height="1.3"/><rect x="570.2" y="136.6" width="1.3" height="1.3"/><rect x="568.1" y="152.8" width="1.3" height="1.3"/><rect x="566.2" y="136.6" width="1.3" height="1.3"/><rect x="580.2" y="152.2" width="1.3" height="1.3"/><rect x="570.0" y="151.9" width="1.3" height="1.3"/><rect x="573.3" y="152.1" width="1.3" height="1.3"/><rect x="563.8" y="159.8" width="1.3" height="1.3"/><rect x="574.9" y="148.4" width="1.3" height="1.3"/><rect x="569.1" y="156.1" width="1.3" height="1.3"/><rect x="556.8" y="154.7" width="1.3" height="1.3"/><rect x="575.8" y="155.6" width="1.3" height="1.3"/><rect x="572.1" y="155.1" width="1.3" height="1.3"/><rect x="574.3" y="146.4" width="1.3" height="1.3"/><rect x="572.4" y="137.0" width="1.3" height="1.3"/><rect x="568.5" y="151.8" width="1.3" height="1.3"/><rect x="564.7" y="162.2" width="1.3" height="1.3"/><rect x="561.8" y="162.1" width="1.3" height="1.3"/><rect x="565.8" y="160.5" width="1.3" height="1.3"/><rect x="568.4" y="151.3" width="1.3" height="1.3"/><rect x="565.7" y="156.0" width="1.3" height="1.3"/><rect x="562.0" y="140.1" width="1.3" height="1.3"/><rect x="569.8" y="137.6" width="1.3" height="1.3"/><rect x="572.3" y="138.6" width="1.3" height="1.3"/><rect x="563.8" y="163.0" width="1.3" height="1.3"/><rect x="580.6" y="168.4" width="1.3" height="1.3"/><rect x="579.9" y="168.0" width="1.3" height="1.3"/><rect x="564.2" y="139.7" width="1.3" height="1.3"/><rect x="572.3" y="150.0" width="1.3" height="1.3"/><rect x="566.5" y="138.1" width="1.3" height="1.3"/><rect x="563.1" y="148.7" width="1.3" height="1.3"/><rect x="572.4" y="153.2" width="1.3" height="1.3"/><rect x="567.7" y="137.2" width="1.3" height="1.3"/><rect x="566.6" y="143.0" width="1.3" height="1.3"/><rect x="560.1" y="152.2" width="1.3" height="1.3"/><rect x="560.6" y="159.2" width="1.3" height="1.3"/><rect x="572.9" y="143.5" width="1.3" height="1.3"/><rect x="567.9" y="154.8" width="1.3" height="1.3"/><rect x="576.7" y="166.5" width="1.3" height="1.3"/><rect x="570.5" y="143.4" width="1.3" height="1.3"/><rect x="555.9" y="152.6" width="1.3" height="1.3"/><rect x="569.7" y="133.5" width="1.3" height="1.3"/><rect x="575.4" y="141.3" width="1.3" height="1.3"/><rect x="573.5" y="146.0" width="1.3" height="1.3"/><rect x="580.2" y="150.6" width="1.3" height="1.3"/><rect x="559.1" y="158.3" width="1.3" height="1.3"/><rect x="565.4" y="140.7" width="1.3" height="1.3"/><rect x="564.3" y="145.5" width="1.3" height="1.3"/><rect x="560.5" y="155.1" width="1.3" height="1.3"/><rect x="579.7" y="153.3" width="1.3" height="1.3"/><rect x="555.6" y="158.1" width="1.3" height="1.3"/><rect x="555.9" y="149.5" width="1.3" height="1.3"/><rect x="579.6" y="157.8" width="1.3" height="1.3"/><rect x="580.8" y="161.0" width="1.3" height="1.3"/><rect x="568.0" y="157.9" width="1.3" height="1.3"/><rect x="561.8" y="143.3" width="1.3" height="1.3"/><rect x="576.3" y="144.0" width="1.3" height="1.3"/><rect x="572.2" y="152.3" width="1.3" height="1.3"/><rect x="574.6" y="147.1" width="1.3" height="1.3"/><rect x="581.6" y="159.4" width="1.3" height="1.3"/><rect x="578.0" y="146.1" width="1.3" height="1.3"/><rect x="568.3" y="155.9" width="1.3" height="1.3"/><rect x="581.1" y="169.8" width="1.3" height="1.3"/><rect x="580.2" y="161.6" width="1.3" height="1.3"/><rect x="570.5" y="157.5" width="1.3" height="1.3"/><rect x="571.6" y="137.8" width="1.3" height="1.3"/><rect x="577.2" y="148.4" width="1.3" height="1.3"/><rect x="571.4" y="137.7" width="1.3" height="1.3"/><rect x="574.0" y="151.3" width="1.3" height="1.3"/><rect x="571.6" y="164.8" width="1.3" height="1.3"/><rect x="577.5" y="168.1" width="1.3" height="1.3"/><rect x="559.6" y="145.3" width="1.3" height="1.3"/><rect x="563.3" y="149.6" width="1.3" height="1.3"/><rect x="562.5" y="155.1" width="1.3" height="1.3"/><rect x="557.0" y="151.6" width="1.3" height="1.3"/><rect x="568.4" y="134.5" width="1.3" height="1.3"/><rect x="564.0" y="138.8" width="1.3" height="1.3"/><rect x="560.3" y="156.1" width="1.3" height="1.3"/><rect x="573.2" y="142.9" width="1.3" height="1.3"/><rect x="581.0" y="152.6" width="1.3" height="1.3"/><rect x="575.2" y="144.4" width="1.3" height="1.3"/><rect x="571.0" y="159.0" width="1.3" height="1.3"/><rect x="557.5" y="159.0" width="1.3" height="1.3"/><rect x="557.0" y="153.4" width="1.3" height="1.3"/><rect x="569.6" y="164.9" width="1.3" height="1.3"/><rect x="565.5" y="157.2" width="1.3" height="1.3"/><rect x="564.1" y="148.6" width="1.3" height="1.3"/><rect x="563.4" y="162.9" width="1.3" height="1.3"/><rect x="570.3" y="160.8" width="1.3" height="1.3"/><rect x="578.3" y="157.9" width="1.3" height="1.3"/><rect x="573.5" y="162.9" width="1.3" height="1.3"/><rect x="573.4" y="147.1" width="1.3" height="1.3"/><rect x="571.5" y="137.8" width="1.3" height="1.3"/><rect x="572.5" y="145.3" width="1.3" height="1.3"/><rect x="570.1" y="157.2" width="1.3" height="1.3"/><rect x="559.4" y="160.6" width="1.3" height="1.3"/><rect x="568.6" y="156.8" width="1.3" height="1.3"/><rect x="568.6" y="160.9" width="1.3" height="1.3"/><rect x="573.4" y="142.5" width="1.3" height="1.3"/><rect x="574.4" y="161.8" width="1.3" height="1.3"/><rect x="568.3" y="154.1" width="1.3" height="1.3"/><rect x="573.1" y="149.4" width="1.3" height="1.3"/><rect x="557.8" y="146.5" width="1.3" height="1.3"/><rect x="577.1" y="159.8" width="1.3" height="1.3"/><rect x="557.4" y="149.4" width="1.3" height="1.3"/><rect x="571.8" y="151.7" width="1.3" height="1.3"/><rect x="559.5" y="156.5" width="1.3" height="1.3"/><rect x="574.9" y="151.8" width="1.3" height="1.3"/><rect x="581.7" y="153.6" width="1.3" height="1.3"/><rect x="569.7" y="147.9" width="1.3" height="1.3"/><rect x="569.9" y="161.6" width="1.3" height="1.3"/><rect x="565.8" y="161.8" width="1.3" height="1.3"/><rect x="574.8" y="142.7" width="1.3" height="1.3"/></g><path d="M550 159.5 L583 171.5 M550 156 L569 132.4" stroke="#2c8ff1" stroke-width="1.1" opacity="0.6" fill="none" filter="url(#b05)"/><linearGradient id="spk0" gradientUnits="userSpaceOnUse" x1="546.9" y1="158.2" x2="482.3" y2="91.2"><stop offset="0" stop-color="#0eb3d4"/><stop offset="0.5" stop-color="#2c8ff1"/><stop offset="1" stop-color="#416bfe" stop-opacity="0.25"/></linearGradient><polygon points="548.0,157.2 482.8,90.7 481.8,91.7 545.8,159.2" fill="url(#spk0)" filter="url(#b05)"/><linearGradient id="spk1" gradientUnits="userSpaceOnUse" x1="546.9" y1="158.2" x2="610.0" y2="98.6"><stop offset="0" stop-color="#0eb3d4"/><stop offset="0.5" stop-color="#2c8ff1"/><stop offset="1" stop-color="#416bfe" stop-opacity="0.25"/></linearGradient><polygon points="547.9,159.3 610.5,99.1 609.5,98.1 545.9,157.1" fill="url(#spk1)" filter="url(#b05)"/><linearGradient id="spk2" gradientUnits="userSpaceOnUse" x1="546.9" y1="158.2" x2="483.6" y2="217.7"><stop offset="0" stop-color="#0eb3d4"/><stop offset="0.5" stop-color="#2c8ff1"/><stop offset="1" stop-color="#416bfe" stop-opacity="0.25"/></linearGradient><polygon points="545.9,157.1 483.1,217.2 484.1,218.2 547.9,159.3" fill="url(#spk2)" filter="url(#b05)"/><linearGradient id="spk3" gradientUnits="userSpaceOnUse" x1="546.9" y1="158.2" x2="611.4" y2="226.4"><stop offset="0" stop-color="#0eb3d4"/><stop offset="0.5" stop-color="#2c8ff1"/><stop offset="1" stop-color="#416bfe" stop-opacity="0.25"/></linearGradient><polygon points="545.8,159.2 610.9,226.9 611.9,225.9 548.0,157.2" fill="url(#spk3)" filter="url(#b05)"/><circle cx="546.9" cy="158.2" r="6" fill="url(#core)"/>
</g>
<rect x="400.80" y="11.80" width="292.00" height="292.00" fill="none" stroke="#1c1470" stroke-width="0.6" opacity="0.8"/>
<path d="M430.20 303.80V300.90M430.20 11.80V14.70M400.80 274.40H403.70M692.80 274.40H689.90M459.60 303.80V300.90M459.60 11.80V14.70M400.80 245.00H403.70M692.80 245.00H689.90M488.99 303.80V300.90M488.99 11.80V14.70M400.80 215.61H403.70M692.80 215.61H689.90M518.39 303.80V300.90M518.39 11.80V14.70M400.80 186.21H403.70M692.80 186.21H689.90M547.79 303.80V300.90M547.79 11.80V14.70M400.80 156.81H403.70M692.80 156.81H689.90M577.19 303.80V300.90M577.19 11.80V14.70M400.80 127.41H403.70M692.80 127.41H689.90M606.58 303.80V300.90M606.58 11.80V14.70M400.80 98.02H403.70M692.80 98.02H689.90M635.98 303.80V300.90M635.98 11.80V14.70M400.80 68.62H403.70M692.80 68.62H689.90M665.38 303.80V300.90M665.38 11.80V14.70M400.80 39.22H403.70M692.80 39.22H689.90" stroke="#262626" stroke-width="0.5" opacity="0.55" fill="none"/>
<g font-family="'Liberation Sans', Arial, Helvetica, sans-serif" font-size="8.55" fill="#ffffff" stroke="#ffffff" stroke-width="0.18">
<text x="409.80" y="28.55" textLength="107.60" lengthAdjust="spacingAndGlyphs">T= 3600 s, &#916;= 11313497 km</text>
<text x="409.80" y="38.71" textLength="66.00" lengthAdjust="spacingAndGlyphs">PSF MODE= HST</text>
<text x="409.80" y="48.87" textLength="143.80" lengthAdjust="spacingAndGlyphs">PIX SCALE= 0.194 <tspan font-family="'Liberation Serif', 'Times New Roman', serif" font-style="italic">&#956;</tspan>rad = 0.04 arcsec</text>
<text x="409.80" y="59.03" textLength="127.50" lengthAdjust="spacingAndGlyphs">MIN DEBRIS DIST= 11313966 km</text>
<text x="409.80" y="69.19" textLength="162.25" lengthAdjust="spacingAndGlyphs">TOTAL EJECTA BRIGHTNESS= 14.30 mag</text>
<text x="409.80" y="79.35" textLength="152.30" lengthAdjust="spacingAndGlyphs">Percent of flux in brightest pixel: 10.13%</text>
</g>
<text x="546.80" y="8.60" font-family="'Liberation Sans', Arial, Helvetica, sans-serif" font-weight="bold" font-size="9.25" text-anchor="middle" fill="#000" textLength="202" lengthAdjust="spacingAndGlyphs">HST, 1024 x 1024 pix, FOV 0.683x0.683 arcmin</text>
<g font-family="'Liberation Sans', Arial, Helvetica, sans-serif" font-size="8.5" fill="#262626" stroke="#262626" stroke-width="0.15">
<text x="400.80" y="315.10" text-anchor="middle">0</text>
<text x="398.80" y="307.50" text-anchor="end">0</text>
<text x="430.20" y="315.10" text-anchor="middle">0.2</text>
<text x="398.80" y="278.10" text-anchor="end">0.2</text>
<text x="459.60" y="315.10" text-anchor="middle">0.4</text>
<text x="398.80" y="248.70" text-anchor="end">0.4</text>
<text x="488.99" y="315.10" text-anchor="middle">0.6</text>
<text x="398.80" y="219.31" text-anchor="end">0.6</text>
<text x="518.39" y="315.10" text-anchor="middle">0.8</text>
<text x="398.80" y="189.91" text-anchor="end">0.8</text>
<text x="547.79" y="315.10" text-anchor="middle">1</text>
<text x="398.80" y="160.51" text-anchor="end">1</text>
<text x="577.19" y="315.10" text-anchor="middle">1.2</text>
<text x="398.80" y="131.11" text-anchor="end">1.2</text>
<text x="606.58" y="315.10" text-anchor="middle">1.4</text>
<text x="398.80" y="101.72" text-anchor="end">1.4</text>
<text x="635.98" y="315.10" text-anchor="middle">1.6</text>
<text x="398.80" y="72.32" text-anchor="end">1.6</text>
<text x="665.38" y="315.10" text-anchor="middle">1.8</text>
<text x="398.80" y="42.92" text-anchor="end">1.8</text>
</g>
<text x="401.00" y="9.90" font-family="'Liberation Sans', Arial, Helvetica, sans-serif" font-size="8.4" fill="#262626"><tspan font-size="10.5" dy="0.8">&#215;</tspan><tspan dx="0.8" dy="-0.8">10</tspan><tspan font-size="6" dy="-4.3">-4</tspan></text>
<text x="692.70" y="328.00" font-family="'Liberation Sans', Arial, Helvetica, sans-serif" font-size="8.4" fill="#262626" text-anchor="end"><tspan font-size="10.5" dy="0.8">&#215;</tspan><tspan dx="0.8" dy="-0.8">10</tspan><tspan font-size="6" dy="-4.3">-4</tspan></text>
<text x="546.80" y="326.20" font-family="'Liberation Sans', Arial, Helvetica, sans-serif" font-size="9.1" fill="#262626" text-anchor="middle" textLength="78.8" lengthAdjust="spacingAndGlyphs">Focal Plane X - rad</text>
<text transform="translate(383.60 157.80) rotate(-90)" font-family="'Liberation Sans', Arial, Helvetica, sans-serif" font-size="9.1" fill="#262626" text-anchor="middle">Focal Plane Y - rad</text>
<rect x="696.30" y="11.80" width="6.80" height="292.00" fill="url(#cbg)"/>
<rect x="696.30" y="11.80" width="6.80" height="292.00" fill="none" stroke="#262626" stroke-width="0.4" opacity="0.5"/>
<path d="M703.10 84.80H700.60M703.10 157.80H700.60M703.10 230.80H700.60" stroke="#262626" stroke-width="0.5" opacity="0.5"/>
<g font-family="'Liberation Sans', Arial, Helvetica, sans-serif" font-size="8.2" fill="#262626">
<text x="705.20" y="14.75">35</text>
<text x="705.20" y="87.75">30</text>
<text x="705.20" y="160.75">25</text>
<text x="705.20" y="233.75">20</text>
<text x="705.20" y="306.75">15</text>
</g>
<text transform="translate(722.60 157.80) rotate(-90)" font-family="'Liberation Sans', Arial, Helvetica, sans-serif" font-size="8" fill="#262626" text-anchor="middle">mag/pixel</text>
<text x="460.60" y="350.70" font-family="'Liberation Serif', 'Times New Roman', serif" font-size="13.6" fill="#000" textLength="176.1" lengthAdjust="spacingAndGlyphs">(b) <tspan font-style="italic">t</tspan> =1 hr, with PSF applied</text>
</g>
<g>
<clipPath id="clipc"><rect x="25.00" y="373.40" width="292.00" height="292.00"/></clipPath>
<g clip-path="url(#clipc)">
<rect x="25.00" y="373.40" width="292.00" height="292.00" fill="#3e26a8"/>
<g transform="translate(0.0 0.0)"><use href="#fanS" fill="#4850f2"/><use href="#fanS" fill="url(#fang)"/><use href="#fanS" fill="url(#fang2)"/><g clip-path="url(#fanclip)"><polyline points="145.5,506.5 150.1,497.0 153.0,490.2 156.8,485.2 160.2,479.3 166.0,470.9 170.2,464.2 174.4,458.4 180.9,452.9 186.8,444.5 195.2,432.8 201.9,421.8 210.3,416.0 220.3,410.1 227.9,405.1 238.5,389.8 249.0,377.2 253.2,373.0 258.0,366.0" fill="none" stroke="#473fe3" stroke-width="16" stroke-linejoin="round" filter="url(#b4)" opacity="0.9"/></g><g clip-path="url(#fanclip)"><polyline points="164.8,518.5 178.9,525.2 206.2,540.0 230.0,549.7 242.4,553.4 254.8,558.4 267.2,563.3 279.6,567.7 292.0,571.4" fill="none" stroke="#2e85f8" stroke-width="24" stroke-linejoin="round" filter="url(#b6)" opacity="0.65"/></g><use href="#fanS" fill="url(#blobp)" mask="url(#texm)"/><use href="#fanS" fill="#2a1c8c" filter="url(#tex)" opacity="0.4" mask="url(#texm)"/><circle cx="146.5" cy="508.2" r="3.7" fill="#1fa6e2"/><polygon points="148,509 165,504 180,503.5 189,514 189,525 170,521" fill="#01b8ca" opacity="0.85" filter="url(#b2)"/><g filter="url(#b08)"><path d="M149 509.1 L184.7 523.6" stroke="url(#strk)" stroke-width="3" stroke-linecap="round"/><path d="M173.1 517.8 L178 507.4" stroke="#0abdbd" stroke-width="1.2" opacity="0.7"/><circle cx="173.1" cy="517.8" r="1.9" fill="#d0c027"/></g></g>
</g>
<rect x="25.00" y="373.40" width="292.00" height="292.00" fill="none" stroke="#1c1470" stroke-width="0.6" opacity="0.8"/>
<path d="M54.40 665.40V662.50M54.40 373.40V376.30M25.00 636.00H27.90M317.00 636.00H314.10M83.80 665.40V662.50M83.80 373.40V376.30M25.00 606.60H27.90M317.00 606.60H314.10M113.19 665.40V662.50M113.19 373.40V376.30M25.00 577.21H27.90M317.00 577.21H314.10M142.59 665.40V662.50M142.59 373.40V376.30M25.00 547.81H27.90M317.00 547.81H314.10M171.99 665.40V662.50M171.99 373.40V376.30M25.00 518.41H27.90M317.00 518.41H314.10M201.39 665.40V662.50M201.39 373.40V376.30M25.00 489.01H27.90M317.00 489.01H314.10M230.78 665.40V662.50M230.78 373.40V376.30M25.00 459.62H27.90M317.00 459.62H314.10M260.18 665.40V662.50M260.18 373.40V376.30M25.00 430.22H27.90M317.00 430.22H314.10M289.58 665.40V662.50M289.58 373.40V376.30M25.00 400.82H27.90M317.00 400.82H314.10" stroke="#262626" stroke-width="0.5" opacity="0.55" fill="none"/>
<g font-family="'Liberation Sans', Arial, Helvetica, sans-serif" font-size="8.55" fill="#ffffff" stroke="#ffffff" stroke-width="0.18">
<text x="34.00" y="390.15" textLength="112.80" lengthAdjust="spacingAndGlyphs">T= 79200 s, &#916;= 11167745 km</text>
<text x="34.00" y="400.31" textLength="73.80" lengthAdjust="spacingAndGlyphs">PSF MODE= NONE</text>
<text x="34.00" y="410.47" textLength="143.80" lengthAdjust="spacingAndGlyphs">PIX SCALE= 0.194 <tspan font-family="'Liberation Serif', 'Times New Roman', serif" font-style="italic">&#956;</tspan>rad = 0.04 arcsec</text>
<text x="34.00" y="420.63" textLength="127.50" lengthAdjust="spacingAndGlyphs">MIN DEBRIS DIST= 11164187 km</text>
<text x="34.00" y="430.79" textLength="162.25" lengthAdjust="spacingAndGlyphs">TOTAL EJECTA BRIGHTNESS= 14.31 mag</text>
<text x="34.00" y="440.95" textLength="148.00" lengthAdjust="spacingAndGlyphs">Percent of flux in brightest pixel: 0.28%</text>
</g>
<text x="171.00" y="370.20" font-family="'Liberation Sans', Arial, Helvetica, sans-serif" font-weight="bold" font-size="9.25" text-anchor="middle" fill="#000" textLength="202" lengthAdjust="spacingAndGlyphs">HST, 1024 x 1024 pix, FOV 0.683x0.683 arcmin</text>
<g font-family="'Liberation Sans', Arial, Helvetica, sans-serif" font-size="8.5" fill="#262626" stroke="#262626" stroke-width="0.15">
<text x="25.00" y="676.70" text-anchor="middle">0</text>
<text x="23.00" y="669.10" text-anchor="end">0</text>
<text x="54.40" y="676.70" text-anchor="middle">0.2</text>
<text x="23.00" y="639.70" text-anchor="end">0.2</text>
<text x="83.80" y="676.70" text-anchor="middle">0.4</text>
<text x="23.00" y="610.30" text-anchor="end">0.4</text>
<text x="113.19" y="676.70" text-anchor="middle">0.6</text>
<text x="23.00" y="580.91" text-anchor="end">0.6</text>
<text x="142.59" y="676.70" text-anchor="middle">0.8</text>
<text x="23.00" y="551.51" text-anchor="end">0.8</text>
<text x="171.99" y="676.70" text-anchor="middle">1</text>
<text x="23.00" y="522.11" text-anchor="end">1</text>
<text x="201.39" y="676.70" text-anchor="middle">1.2</text>
<text x="23.00" y="492.71" text-anchor="end">1.2</text>
<text x="230.78" y="676.70" text-anchor="middle">1.4</text>
<text x="23.00" y="463.32" text-anchor="end">1.4</text>
<text x="260.18" y="676.70" text-anchor="middle">1.6</text>
<text x="23.00" y="433.92" text-anchor="end">1.6</text>
<text x="289.58" y="676.70" text-anchor="middle">1.8</text>
<text x="23.00" y="404.52" text-anchor="end">1.8</text>
</g>
<text x="25.20" y="371.50" font-family="'Liberation Sans', Arial, Helvetica, sans-serif" font-size="8.4" fill="#262626"><tspan font-size="10.5" dy="0.8">&#215;</tspan><tspan dx="0.8" dy="-0.8">10</tspan><tspan font-size="6" dy="-4.3">-4</tspan></text>
<text x="316.90" y="689.60" font-family="'Liberation Sans', Arial, Helvetica, sans-serif" font-size="8.4" fill="#262626" text-anchor="end"><tspan font-size="10.5" dy="0.8">&#215;</tspan><tspan dx="0.8" dy="-0.8">10</tspan><tspan font-size="6" dy="-4.3">-4</tspan></text>
<text x="171.00" y="687.80" font-family="'Liberation Sans', Arial, Helvetica, sans-serif" font-size="9.1" fill="#262626" text-anchor="middle" textLength="78.8" lengthAdjust="spacingAndGlyphs">Focal Plane X - rad</text>
<text transform="translate(7.80 519.40) rotate(-90)" font-family="'Liberation Sans', Arial, Helvetica, sans-serif" font-size="9.1" fill="#262626" text-anchor="middle">Focal Plane Y - rad</text>
<rect x="320.80" y="373.40" width="6.50" height="292.00" fill="url(#cbg)"/>
<rect x="320.80" y="373.40" width="6.50" height="292.00" fill="none" stroke="#262626" stroke-width="0.4" opacity="0.5"/>
<path d="M327.30 446.40H324.80M327.30 519.40H324.80M327.30 592.40H324.80" stroke="#262626" stroke-width="0.5" opacity="0.5"/>
<g font-family="'Liberation Sans', Arial, Helvetica, sans-serif" font-size="8.2" fill="#262626">
<text x="329.40" y="376.35" font-family="'Liberation Serif', 'Times New Roman', serif" font-size="9">35</text>
<text x="329.40" y="449.35">30</text>
<text x="329.40" y="522.35">25</text>
<text x="329.40" y="595.35">20</text>
<text x="329.40" y="668.35">15</text>
</g>
<text transform="translate(346.80 519.40) rotate(-90)" font-family="'Liberation Sans', Arial, Helvetica, sans-serif" font-size="8" fill="#262626" text-anchor="middle">mag/pixel</text>
<text x="89.00" y="710.60" font-family="'Liberation Serif', 'Times New Roman', serif" font-size="13.6" fill="#000" textLength="168.7" lengthAdjust="spacingAndGlyphs">(c) <tspan font-style="italic">t</tspan> =22 hr, no PSF applied</text>
</g>
<g>
<clipPath id="clipd"><rect x="398.60" y="373.60" width="292.00" height="292.00"/></clipPath>
<g clip-path="url(#clipd)">
<rect x="398.60" y="373.60" width="292.00" height="292.00" fill="#3e26a8"/>
<rect x="489.5" y="460.5" width="112" height="108" rx="20" fill="url(#glow)" filter="url(#b4)"/><circle cx="537.5" cy="513.5" r="34" fill="url(#glow2)"/><linearGradient id="dspk0" gradientUnits="userSpaceOnUse" x1="545.5" y1="515.5" x2="491.6" y2="462.8"><stop offset="0" stop-color="#3974fe"/><stop offset="0.6" stop-color="#475cfa" stop-opacity="0.75"/><stop offset="1" stop-color="#4747eb" stop-opacity="0"/></linearGradient><polygon points="546.8,514.2 495.4,458.9 487.8,466.7 544.2,516.8" fill="url(#dspk0)" filter="url(#b2)" opacity="0.8"/><linearGradient id="dspk1" gradientUnits="userSpaceOnUse" x1="545.5" y1="515.5" x2="600.0" y2="458.0"><stop offset="0" stop-color="#3974fe"/><stop offset="0.6" stop-color="#475cfa" stop-opacity="0.75"/><stop offset="1" stop-color="#4747eb" stop-opacity="0"/></linearGradient><polygon points="546.8,516.7 604.0,461.8 596.0,454.2 544.2,514.3" fill="url(#dspk1)" filter="url(#b2)" opacity="0.8"/><linearGradient id="dspk2" gradientUnits="userSpaceOnUse" x1="545.5" y1="515.5" x2="494.0" y2="566.0"><stop offset="0" stop-color="#3974fe"/><stop offset="0.6" stop-color="#475cfa" stop-opacity="0.75"/><stop offset="1" stop-color="#4747eb" stop-opacity="0"/></linearGradient><polygon points="544.2,514.2 490.1,562.1 497.9,569.9 546.8,516.8" fill="url(#dspk2)" filter="url(#b2)" opacity="0.8"/><linearGradient id="dspk3" gradientUnits="userSpaceOnUse" x1="545.5" y1="515.5" x2="598.7" y2="572.4"><stop offset="0" stop-color="#3974fe"/><stop offset="0.6" stop-color="#475cfa" stop-opacity="0.75"/><stop offset="1" stop-color="#4747eb" stop-opacity="0"/></linearGradient><polygon points="544.2,516.7 594.7,576.2 602.7,568.6 546.8,514.3" fill="url(#dspk3)" filter="url(#b2)" opacity="0.8"/><g transform="translate(373.6 0.2)" filter="url(#b1)"><use href="#fanS" fill="#4850f2"/><use href="#fanS" fill="url(#fang)"/><use href="#fanS" fill="url(#fang2)"/><use href="#fanS" fill="url(#fang3)"/><g clip-path="url(#fanclip)"><polyline points="154.8,483.2 158.2,477.3 164.0,468.9 168.2,462.2 172.4,456.4 178.9,450.9 184.8,442.5 193.2,430.8 199.9,419.8 208.3,414.0 218.3,408.1 225.9,403.1 236.5,387.8 247.0,375.2 251.2,371.0 256.0,364.0" fill="none" stroke="#4536d3" stroke-width="26" stroke-linejoin="round" filter="url(#b4)" opacity="0.95"/></g><g clip-path="url(#fanclip)"><polyline points="145.5,506.5 150.1,497.0 153.0,490.2 156.8,485.2 160.2,479.3 166.0,470.9 170.2,464.2 174.4,458.4 180.9,452.9 186.8,444.5 195.2,432.8 201.9,421.8 210.3,416.0 220.3,410.1 227.9,405.1 238.5,389.8 249.0,377.2 253.2,373.0 258.0,366.0" fill="none" stroke="#473fe3" stroke-width="16" stroke-linejoin="round" filter="url(#b4)" opacity="0.9"/></g><g clip-path="url(#fanclip)"><polyline points="164.8,518.5 178.9,525.2 206.2,540.0 230.0,549.7 242.4,553.4 254.8,558.4 267.2,563.3 279.6,567.7 292.0,571.4" fill="none" stroke="#2e85f8" stroke-width="24" stroke-linejoin="round" filter="url(#b6)" opacity="0.65"/></g><use href="#fanS" fill="url(#blobp)" mask="url(#texm)"/><use href="#fanS" fill="#2a1c8c" filter="url(#tex)" opacity="0.4" mask="url(#texm)"/><circle cx="146.5" cy="508.2" r="3.7" fill="#1fa6e2"/><polygon points="148,509 165,504 180,503.5 189,514 189,525 170,521" fill="#01b8ca" opacity="0.95" filter="url(#b2)"/><g filter="url(#b15)"><path d="M149 509.1 L184.7 523.6" stroke="url(#strk)" stroke-width="4.2" stroke-linecap="round"/><path d="M173.1 517.8 L178 507.4" stroke="#0abdbd" stroke-width="1.2" opacity="0.7"/><circle cx="173.1" cy="517.8" r="1.9" fill="#d0c027"/></g></g>
</g>
<rect x="398.60" y="373.60" width="292.00" height="292.00" fill="none" stroke="#1c1470" stroke-width="0.6" opacity="0.8"/>
<path d="M428.00 665.60V662.70M428.00 373.60V376.50M398.60 636.20H401.50M690.60 636.20H687.70M457.40 665.60V662.70M457.40 373.60V376.50M398.60 606.80H401.50M690.60 606.80H687.70M486.79 665.60V662.70M486.79 373.60V376.50M398.60 577.41H401.50M690.60 577.41H687.70M516.19 665.60V662.70M516.19 373.60V376.50M398.60 548.01H401.50M690.60 548.01H687.70M545.59 665.60V662.70M545.59 373.60V376.50M398.60 518.61H401.50M690.60 518.61H687.70M574.99 665.60V662.70M574.99 373.60V376.50M398.60 489.21H401.50M690.60 489.21H687.70M604.38 665.60V662.70M604.38 373.60V376.50M398.60 459.82H401.50M690.60 459.82H687.70M633.78 665.60V662.70M633.78 373.60V376.50M398.60 430.42H401.50M690.60 430.42H687.70M663.18 665.60V662.70M663.18 373.60V376.50M398.60 401.02H401.50M690.60 401.02H687.70" stroke="#262626" stroke-width="0.5" opacity="0.55" fill="none"/>
<g font-family="'Liberation Sans', Arial, Helvetica, sans-serif" font-size="8.55" fill="#ffffff" stroke="#ffffff" stroke-width="0.18">
<text x="407.60" y="390.35" textLength="112.60" lengthAdjust="spacingAndGlyphs">T= 79200 s, &#916;= 11167745 km</text>
<text x="407.60" y="400.51" textLength="65.90" lengthAdjust="spacingAndGlyphs">PSF MODE= HST</text>
<text x="407.60" y="410.67" textLength="143.80" lengthAdjust="spacingAndGlyphs">PIX SCALE= 0.194 <tspan font-family="'Liberation Serif', 'Times New Roman', serif" font-style="italic">&#956;</tspan>rad = 0.04 arcsec</text>
<text x="407.60" y="420.83" textLength="127.50" lengthAdjust="spacingAndGlyphs">MIN DEBRIS DIST= 11164187 km</text>
<text x="407.60" y="430.99" textLength="162.25" lengthAdjust="spacingAndGlyphs">TOTAL EJECTA BRIGHTNESS= 14.31 mag</text>
<text x="407.60" y="441.15" textLength="147.60" lengthAdjust="spacingAndGlyphs">Percent of flux in brightest pixel: 0.18%</text>
</g>
<text x="544.60" y="370.40" font-family="'Liberation Sans', Arial, Helvetica, sans-serif" font-weight="bold" font-size="9.25" text-anchor="middle" fill="#000" textLength="202" lengthAdjust="spacingAndGlyphs">HST, 1024 x 1024 pix, FOV 0.683x0.683 arcmin</text>
<g font-family="'Liberation Sans', Arial, Helvetica, sans-serif" font-size="8.5" fill="#262626" stroke="#262626" stroke-width="0.15">
<text x="398.60" y="676.90" text-anchor="middle">0</text>
<text x="396.60" y="669.30" text-anchor="end">0</text>
<text x="428.00" y="676.90" text-anchor="middle">0.2</text>
<text x="396.60" y="639.90" text-anchor="end">0.2</text>
<text x="457.40" y="676.90" text-anchor="middle">0.4</text>
<text x="396.60" y="610.50" text-anchor="end">0.4</text>
<text x="486.79" y="676.90" text-anchor="middle">0.6</text>
<text x="396.60" y="581.11" text-anchor="end">0.6</text>
<text x="516.19" y="676.90" text-anchor="middle">0.8</text>
<text x="396.60" y="551.71" text-anchor="end">0.8</text>
<text x="545.59" y="676.90" text-anchor="middle">1</text>
<text x="396.60" y="522.31" text-anchor="end">1</text>
<text x="574.99" y="676.90" text-anchor="middle">1.2</text>
<text x="396.60" y="492.91" text-anchor="end">1.2</text>
<text x="604.38" y="676.90" text-anchor="middle">1.4</text>
<text x="396.60" y="463.52" text-anchor="end">1.4</text>
<text x="633.78" y="676.90" text-anchor="middle">1.6</text>
<text x="396.60" y="434.12" text-anchor="end">1.6</text>
<text x="663.18" y="676.90" text-anchor="middle">1.8</text>
<text x="396.60" y="404.72" text-anchor="end">1.8</text>
</g>
<text x="398.80" y="371.70" font-family="'Liberation Sans', Arial, Helvetica, sans-serif" font-size="8.4" fill="#262626"><tspan font-size="10.5" dy="0.8">&#215;</tspan><tspan dx="0.8" dy="-0.8">10</tspan><tspan font-size="6" dy="-4.3">-4</tspan></text>
<text x="690.50" y="689.80" font-family="'Liberation Sans', Arial, Helvetica, sans-serif" font-size="8.4" fill="#262626" text-anchor="end"><tspan font-size="10.5" dy="0.8">&#215;</tspan><tspan dx="0.8" dy="-0.8">10</tspan><tspan font-size="6" dy="-4.3">-4</tspan></text>
<text x="544.60" y="688.00" font-family="'Liberation Sans', Arial, Helvetica, sans-serif" font-size="9.1" fill="#262626" text-anchor="middle" textLength="78.8" lengthAdjust="spacingAndGlyphs">Focal Plane X - rad</text>
<text transform="translate(381.40 519.60) rotate(-90)" font-family="'Liberation Sans', Arial, Helvetica, sans-serif" font-size="9.1" fill="#262626" text-anchor="middle">Focal Plane Y - rad</text>
<rect x="694.10" y="373.60" width="6.80" height="292.00" fill="url(#cbg)"/>
<rect x="694.10" y="373.60" width="6.80" height="292.00" fill="none" stroke="#262626" stroke-width="0.4" opacity="0.5"/>
<path d="M700.90 446.60H698.40M700.90 519.60H698.40M700.90 592.60H698.40" stroke="#262626" stroke-width="0.5" opacity="0.5"/>
<g font-family="'Liberation Sans', Arial, Helvetica, sans-serif" font-size="8.2" fill="#262626">
<text x="703.00" y="376.55">35</text>
<text x="703.00" y="449.55">30</text>
<text x="703.00" y="522.55">25</text>
<text x="703.00" y="595.55">20</text>
<text x="703.00" y="668.55">15</text>
</g>
<text transform="translate(720.40 519.60) rotate(-90)" font-family="'Liberation Sans', Arial, Helvetica, sans-serif" font-size="8" fill="#262626" text-anchor="middle">mag/pixel</text>
<text x="455.20" y="710.60" font-family="'Liberation Serif', 'Times New Roman', serif" font-size="13.6" fill="#000" textLength="182.8" lengthAdjust="spacingAndGlyphs">(d) <tspan font-style="italic">t</tspan> =22 hr, with PSF applied</text>
</g>
</svg>
</body></html>
